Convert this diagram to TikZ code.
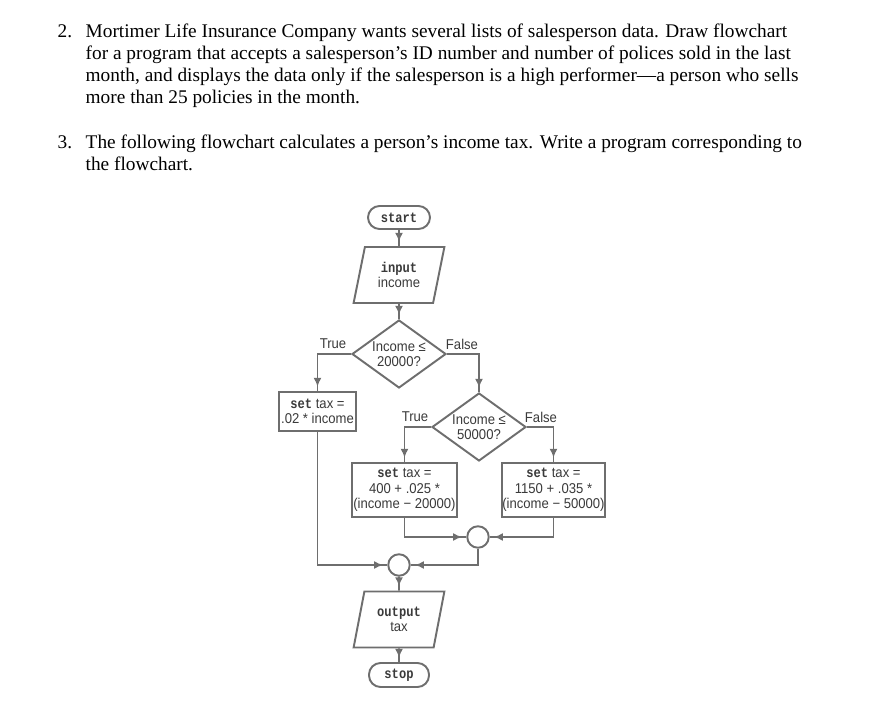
\documentclass[tikz,border=0pt]{standalone}
\usepackage{fontspec}
\setmainfont{Liberation Serif}
\newfontfamily\chartfont[FakeStretch=0.92]{Liberation Sans}
\newfontfamily\keyfont[FakeStretch=0.85]{Liberation Mono}
\usetikzlibrary{shapes.geometric,arrows.meta,decorations.markings}
\definecolor{linegray}{HTML}{6E6E6E}
\definecolor{chartink}{HTML}{3A3A3A}
\begin{document}
\begin{tikzpicture}[x=0.02cm, y=-0.02cm, thick,
    qtext/.style={anchor=base west, inner sep=0pt, font=\fontsize{11}{13}\selectfont},
    chart/.style={draw=linegray, line width=1.1pt, fill=white, text=chartink, inner sep=0pt,
      align=center, font=\chartfont\fontsize{8.1}{8.9}\selectfont},
    terminal/.style={chart, rounded corners=0.23cm, minimum width=1.24cm, minimum height=0.46cm},
    iobox/.style={chart, trapezium, trapezium left angle=75, trapezium right angle=105,
      trapezium stretches=true, minimum width=1.82cm, minimum height=1.12cm},
    decision/.style={chart, diamond, aspect=1.38, minimum width=1.88cm, minimum height=1.36cm},
    process/.style={chart, rectangle, minimum height=1.08cm},
    merge/.style={chart, circle, minimum size=0.43cm},
    lbl/.style={inner sep=0pt, text=chartink, font=\chartfont\fontsize{8.1}{8.9}\selectfont},
    flow/.style={draw=linegray, line width=1.1pt, postaction={decorate},
      decoration={markings, mark=at position -2.5pt with {\arrow[linegray]{Latex[length=5pt,width=4.6pt]}}}} ]
    \useasboundingbox (0,0) rectangle (886,712);
    % question text
    \node [qtext] (q2num) at (57,38) {2.};
    \node [qtext] (q2a) at (85,38) {Mortimer Life Insurance Company wants several lists of salesperson data. Draw flowchart};
    \node [qtext] (q2b) at (85,60) {for a program that accepts a salesperson’s ID number and number of polices sold in the last};
    \node [qtext] (q2c) at (85,82) {month, and displays the data only if the salesperson is a high performer—a person who sells};
    \node [qtext] (q2d) at (85,104) {more than 25 policies in the month.};
    \node [qtext] (q3num) at (57,149) {3.};
    \node [qtext] (q3a) at (85,149) {The following flowchart calculates a person’s income tax. Write a program corresponding to};
    \node [qtext] (q3b) at (85,171) {the flowchart.};
    % flowchart
    \node at (399,217.5) [terminal] (start) {{\keyfont\bfseries start}};
    \node at (399,275) [iobox] (in) {{\keyfont\bfseries input}\\income};
    \node at (399,354) [decision] (d1) {Income ≤\\20000?};
    \node at (317.5,411.5) [process, minimum width=1.54cm, minimum height=0.78cm] (tax1) {{\keyfont\bfseries set} tax =\\.02 * income};
    \node at (479,427) [decision] (d2) {Income ≤\\50000?};
    \node at (404.5,490) [process, minimum width=2.1cm] (tax2) {{\keyfont\bfseries set} tax =\\400 + .025 *\\(income − 20000)};
    \node at (553.5,490) [process, minimum width=2.06cm] (tax3) {{\keyfont\bfseries set} tax =\\1150 + .035 *\\(income − 50000)};
    \node at (478,537) [merge] (m1) {};
    \node at (399,565) [merge] (m2) {};
    \node at (399,619.5) [iobox] (out) {{\keyfont\bfseries output}\\tax};
    \node at (399,675) [terminal, minimum width=1.2cm, minimum height=0.48cm] (stop) {{\keyfont\bfseries stop}};
    \node at (333,344) [lbl] (t1) {True};
    \node at (462,344) [lbl] (f1) {False};
    \node at (415,417) [lbl] (t2) {True};
    \node at (541,417) [lbl] (f2) {False};
    \draw [flow] (start) -- (in);
    \draw [flow] (in) -- (d1);
    \draw [flow] (d1.west) -| (tax1.north);
    \draw [flow] (d1.east) -| (d2.north);
    \draw [flow] (d2.west) -| (tax2.north);
    \draw [flow] (d2.east) -| (tax3.north);
    \draw [flow] (tax2.south) |- (m1.west);
    \draw [flow] (tax3.south) |- (m1.east);
    \draw [flow] (m1.south) |- (m2.east);
    \draw [flow] (tax1.south) |- (m2.west);
    \draw [flow] (m2) -- (out);
    \draw [flow] (out) -- (stop);
\end{tikzpicture}
\end{document}
